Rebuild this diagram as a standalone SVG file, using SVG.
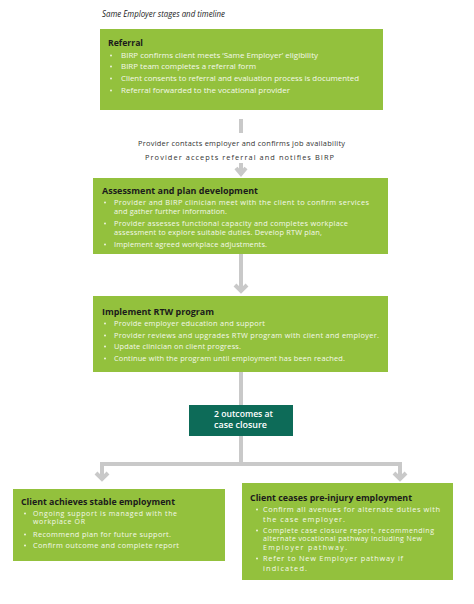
<svg xmlns="http://www.w3.org/2000/svg" width="474" height="604" viewBox="0 0 474 604">
<style>
.box{fill:#93c13d}
.dark{fill:#0d6b58}
.h{font-family:"Open Sans","Liberation Sans",sans-serif;font-weight:700;font-size:9.5px;fill:#1b1b1b}
.b{font-family:"Open Sans","Liberation Sans",sans-serif;font-size:7.4px;fill:#f4f8ea}
.s{font-size:7px}
.m{font-family:"Open Sans","Liberation Sans",sans-serif;font-size:7.4px;fill:#333333}
.t{font-family:"Open Sans","Liberation Sans",sans-serif;font-style:italic;font-size:8.5px;fill:#1b1b1b}
.w{font-family:"Open Sans","Liberation Sans",sans-serif;font-weight:600;font-size:8.6px;fill:#ffffff}
.c{fill:none;stroke:#c9c9c9;stroke-width:4}
.bul{fill:#f4f8ea}
</style>
<rect width="474" height="604" fill="#ffffff"/>
<text class="t" x="102" y="17" textLength="123" lengthAdjust="spacingAndGlyphs">Same Employer stages and timeline</text>

<g id="connectors">
  <path class="c" d="M241 119 V133"/>
  <path class="c" d="M241 163 V175"/>
  <path class="c" d="M236 168 L241 174 L246 168"/>
  <path class="c" d="M241 254 V292"/>
  <path class="c" d="M235 285 L241 291 L247 285"/>
  <path class="c" d="M241 372 V405"/>
  <path class="c" d="M241 436 V464"/>
  <path class="c" d="M102 480 V464 H400 V480"/>
  <path class="c" d="M96 473 L102 479 L108 473"/>
  <path class="c" d="M394 473 L400 479 L406 473"/>
  <text class="m" x="138" y="146" textLength="207" lengthAdjust="spacing">Provider contacts employer and confirms job availability</text>
  <text class="m" x="145" y="160" textLength="189" lengthAdjust="spacing">Provider accepts referral and notifies BIRP</text>
</g>

<g id="referral">
  <rect class="box" x="100" y="29" width="283" height="81"/>
  <text class="h" x="108" y="46" textLength="35" lengthAdjust="spacingAndGlyphs">Referral</text>
  <circle class="bul" cx="111" cy="55.5" r="0.9"/>
  <circle class="bul" cx="111" cy="66.5" r="0.9"/>
  <circle class="bul" cx="111" cy="78.5" r="0.9"/>
  <circle class="bul" cx="111" cy="90.5" r="0.9"/>
  <text class="b" x="121" y="58" textLength="197" lengthAdjust="spacingAndGlyphs">BIRP confirms client meets ‘Same Employer’ eligibility</text>
  <text class="b" x="121" y="69" textLength="135" lengthAdjust="spacingAndGlyphs">BIRP team completes a referral form</text>
  <text class="b" x="121" y="81" textLength="238" lengthAdjust="spacingAndGlyphs">Client consents to referral and evaluation process is documented</text>
  <text class="b" x="121" y="93" textLength="169" lengthAdjust="spacingAndGlyphs">Referral forwarded to the vocational provider</text>
</g>

<g id="assessment">
  <rect class="box" x="93" y="178" width="295" height="76"/>
  <text class="h" x="102" y="194" textLength="156" lengthAdjust="spacingAndGlyphs">Assessment and plan development</text>
  <circle class="bul" cx="105" cy="202.5" r="0.9"/>
  <circle class="bul" cx="105" cy="223.5" r="0.9"/>
  <circle class="bul" cx="105" cy="244.5" r="0.9"/>
  <text class="b" x="114" y="205" textLength="255" lengthAdjust="spacing">Provider and BIRP clinician meet with the client to confirm services</text>
  <text class="b" x="114" y="214" textLength="113" lengthAdjust="spacing">and gather further information.</text>
  <text class="b" x="114" y="226" textLength="234" lengthAdjust="spacing">Provider assesses functional capacity and completes workplace</text>
  <text class="b" x="114" y="235" textLength="208" lengthAdjust="spacing">assessment to explore suitable duties. Develop RTW plan,</text>
  <text class="b" x="114" y="247" textLength="153" lengthAdjust="spacing">Implement agreed workplace adjustments.</text>
</g>

<g id="implement">
  <rect class="box" x="93" y="296" width="295" height="76"/>
  <text class="h" x="102" y="315" textLength="112" lengthAdjust="spacingAndGlyphs">Implement RTW program</text>
  <circle class="bul" cx="105" cy="323.5" r="0.9"/>
  <circle class="bul" cx="105" cy="335.5" r="0.9"/>
  <circle class="bul" cx="105" cy="346.5" r="0.9"/>
  <circle class="bul" cx="105" cy="358.5" r="0.9"/>
  <text class="b" x="114" y="326" textLength="151" lengthAdjust="spacing">Provide employer education and support</text>
  <text class="b" x="114" y="338" textLength="265" lengthAdjust="spacing">Provider reviews and upgrades RTW program with client and employer.</text>
  <text class="b" x="114" y="349" textLength="127" lengthAdjust="spacing">Update clinician on client progress.</text>
  <text class="b" x="114" y="361" textLength="231" lengthAdjust="spacing">Continue with the program until employment has been reached.</text>
</g>

<g id="outcomes">
  <rect class="dark" x="189" y="405" width="104" height="31"/>
  <text class="w" x="214" y="417" textLength="59" lengthAdjust="spacingAndGlyphs">2 outcomes at</text>
  <text class="w" x="214" y="428" textLength="53" lengthAdjust="spacingAndGlyphs">case closure</text>
</g>

<g id="stable">
  <rect class="box" x="13" y="489" width="212" height="72"/>
  <text class="h" x="21" y="505" textLength="154" lengthAdjust="spacingAndGlyphs">Client achieves stable employment</text>
  <circle class="bul" cx="25" cy="513.5" r="0.9"/>
  <circle class="bul" cx="25" cy="534.5" r="0.9"/>
  <circle class="bul" cx="25" cy="545.5" r="0.9"/>
  <text class="b s" x="33" y="515.5" textLength="144" lengthAdjust="spacing">Ongoing support is managed with  the</text>
  <text class="b s" x="33" y="524" textLength="52" lengthAdjust="spacing">workplace OR</text>
  <text class="b" x="33" y="537" textLength="138" lengthAdjust="spacing">Recommend plan for future support.</text>
  <text class="b" x="33" y="548" textLength="146" lengthAdjust="spacing">Confirm outcome and complete report</text>
</g>

<g id="ceases">
  <rect class="box" x="242" y="483" width="211" height="97"/>
  <text class="h" x="250" y="501" textLength="162" lengthAdjust="spacingAndGlyphs">Client ceases pre-injury employment</text>
  <circle class="bul" cx="257" cy="509.5" r="0.9"/>
  <circle class="bul" cx="257" cy="530.5" r="0.9"/>
  <circle class="bul" cx="257" cy="558.5" r="0.9"/>
  <text class="b" x="263" y="512" textLength="177" lengthAdjust="spacing">Confirm all avenues for alternate duties with</text>
  <text class="b" x="263" y="521.5" textLength="82" lengthAdjust="spacing">the case employer.</text>
  <text class="b s" x="263" y="532.5" textLength="171" lengthAdjust="spacing">Complete case closure report, recommending</text>
  <text class="b s" x="263" y="541" textLength="159" lengthAdjust="spacing">alternate vocational pathway including New</text>
  <text class="b s" x="263" y="549.5" textLength="84" lengthAdjust="spacing">Employer pathway.</text>
  <text class="b" x="263" y="561" textLength="140" lengthAdjust="spacing">Refer to New Employer pathway if</text>
  <text class="b" x="263" y="571" textLength="44" lengthAdjust="spacing">indicated.</text>
</g>
</svg>
